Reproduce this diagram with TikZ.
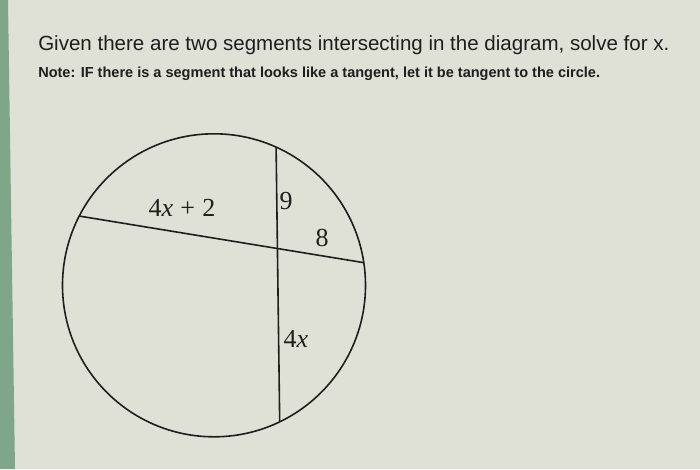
\documentclass[tikz,border=0pt]{standalone}
\usepackage{fontspec}
\setmainfont{Liberation Sans}
\newfontfamily\serifnum{Liberation Serif}
\usepackage{tikz}
\usetikzlibrary{positioning}
\usetikzlibrary{calc}

\definecolor{screenbg}{RGB}{223,225,215}
\definecolor{edgegreen}{RGB}{128,166,138}
\definecolor{ink}{RGB}{30,30,30}

\tikzset{
	chord/.style={draw=ink,line width=1.2pt},
	seglabel/.style={inner sep=1pt,font=\serifnum\fontsize{19.5}{22}\selectfont,text=ink},
	question/.style={anchor=base west,inner sep=0pt,text=ink}
}

\begin{document}
\begin{tikzpicture}[x=0.75pt,y=-0.75pt]
	\fill [screenbg] (0,0) rectangle (700,469);
	\fill [edgegreen] (0,0) -- (8,0) -- (15,469) -- (0,469) -- cycle;
	\useasboundingbox (0,0) rectangle (700,469);
	\node [question,font=\fontsize{15.4}{18}\selectfont] (title) at (38,50) {Given there are two segments intersecting in the diagram, solve for x.};
	\node [question,font=\bfseries\fontsize{10.9}{13}\selectfont] (note) at (38,77.5) {Note: IF there is a segment that looks like a tangent, let it be tangent to the circle.};
	% circle and the two chords
	\coordinate (O) at (214,285.3);
	\draw [chord] (O) circle [radius=151.5];
	\coordinate (vtop) at ($(O)+(-65.8:151.5)$);
	\coordinate (vbot) at ($(O)+(64.3:151.5)$);
	\coordinate (hleft) at ($(O)+(-152.8:151.5)$);
	\coordinate (hright) at ($(O)+(-8.6:151.5)$);
	\draw [chord] (vtop) -- (vbot);
	\draw [chord] (hleft) -- (hright);
	% segment labels
	\node [seglabel] (left) at (182,208) {4\textit{x}\;+\;2};
	\node [seglabel] (up) at (286,201) {9};
	\node [seglabel] (right) at (322,238) {8};
	\node [seglabel] (down) at (296,339) {4\textit{x}};
\end{tikzpicture}
\end{document}
